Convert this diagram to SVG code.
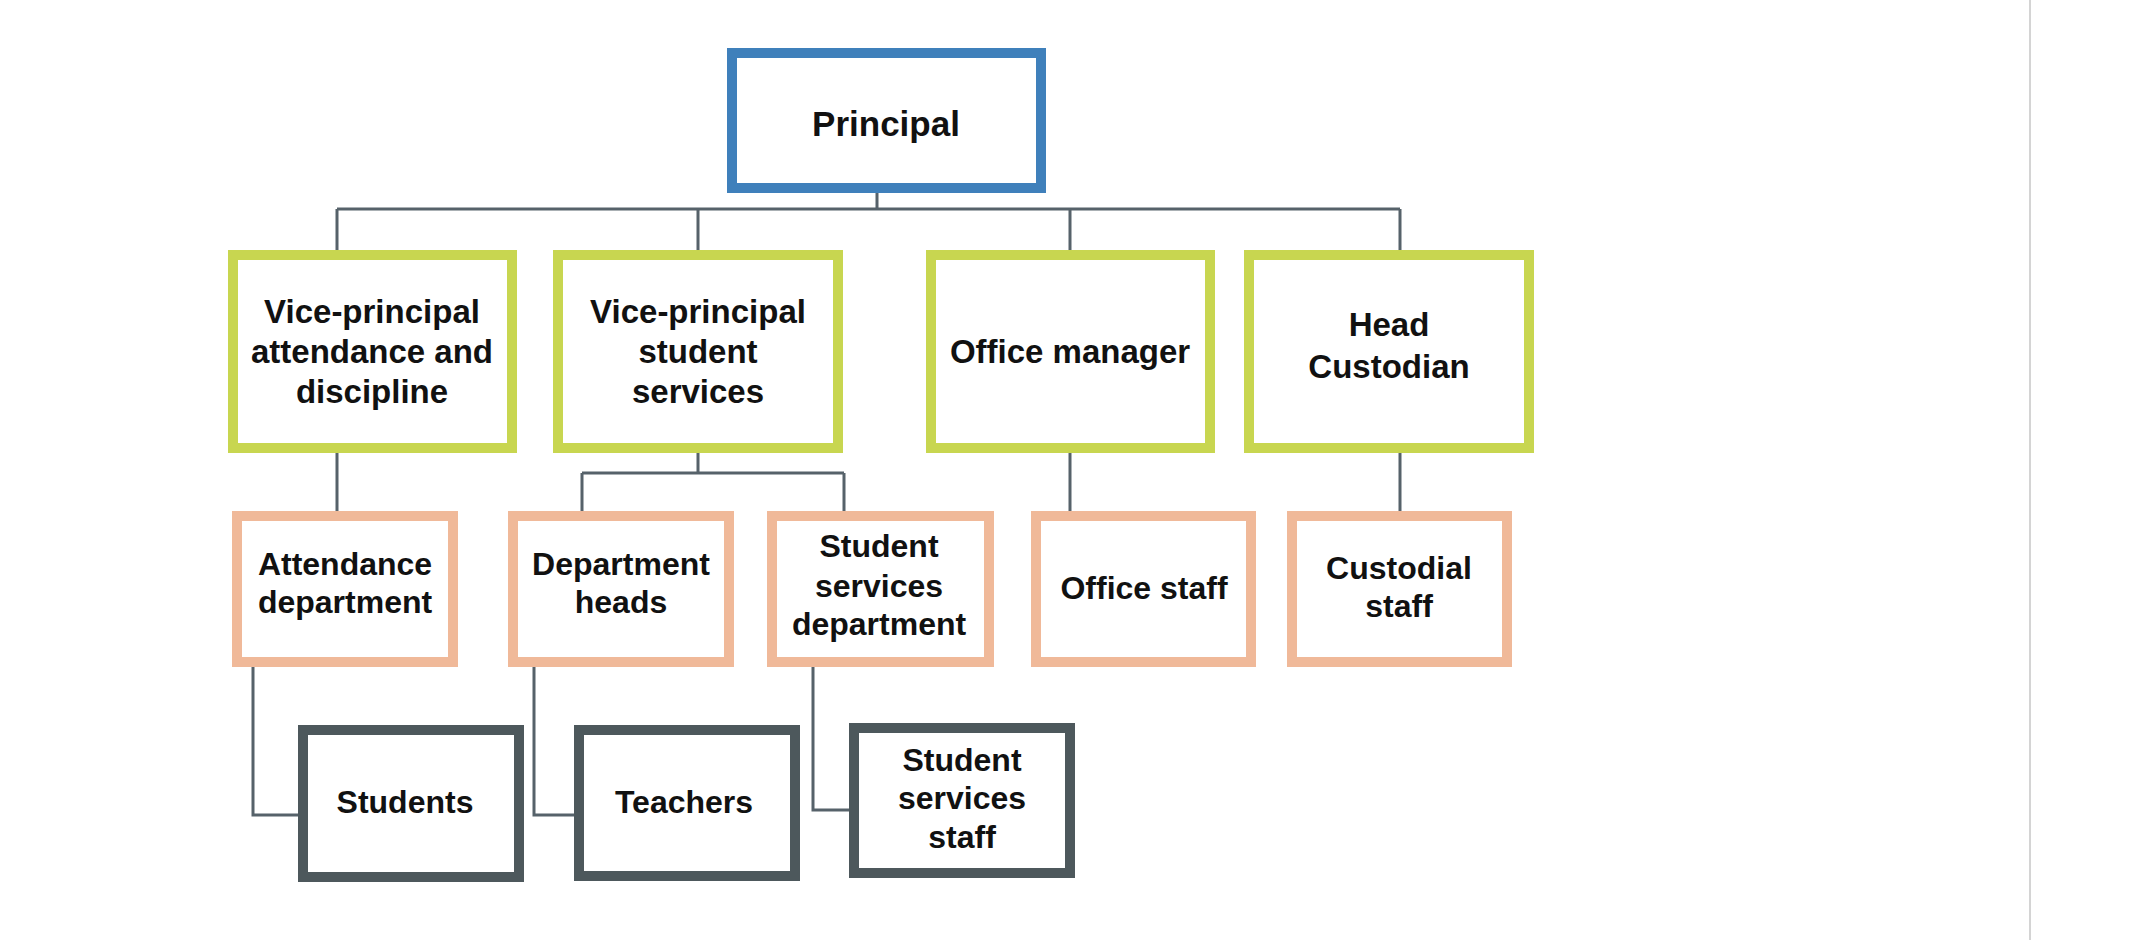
<svg xmlns="http://www.w3.org/2000/svg" width="2131" height="940" viewBox="0 0 2131 940">
<style>
.bx{fill:#ffffff;stroke-width:10}
.top{stroke:#3f80bb}
.l2{stroke:#c8d650}
.l3{stroke:#f0b999}
.l4{stroke:#4d585c}
.cn{fill:none;stroke:#56626a;stroke-width:3}
text{font-family:"Liberation Sans",Arial,Helvetica,sans-serif;font-weight:bold;fill:#111111;text-anchor:middle}
.t1{font-size:35px}
.t2{font-size:33px}
.t3{font-size:32px}
</style>
<rect x="0" y="0" width="2131" height="940" fill="#ffffff"/>
<line x1="2030" y1="0" x2="2030" y2="940" stroke="#d4d4d4" stroke-width="2"/>
<g id="connectors" class="cn">
<path d="M877 193V209M337 209H1400M337 209V250M698 209V250M1070 209V250M1400 209V250"/>
<path d="M337 453V511M698 453V473M582 473H844M582 473V511M844 473V511M1070 453V511M1400 453V511"/>
<path d="M253 667V815H298M534 667V815H574M813 667V810H849"/>
</g>
<g id="principal"><rect class="bx top" x="732" y="53" width="309" height="135"/><text class="t1" x="886" y="136">Principal</text></g>
<g id="vp-attendance"><rect class="bx l2" x="233" y="255" width="279" height="193"/><text class="t2" x="372" y="323">Vice-principal</text><text class="t2" x="372" y="363">attendance and</text><text class="t2" x="372" y="403">discipline</text></g>
<g id="vp-student-services"><rect class="bx l2" x="558" y="255" width="280" height="193"/><text class="t2" x="698" y="323">Vice-principal</text><text class="t2" x="698" y="363">student</text><text class="t2" x="698" y="403">services</text></g>
<g id="office-manager"><rect class="bx l2" x="931" y="255" width="279" height="193"/><text class="t2" x="1070" y="363">Office manager</text></g>
<g id="head-custodian"><rect class="bx l2" x="1249" y="255" width="280" height="193"/><text class="t2" x="1389" y="336">Head</text><text class="t2" x="1389" y="378">Custodian</text></g>
<g id="attendance-department"><rect class="bx l3" x="237" y="516" width="216" height="146"/><text class="t3" x="345" y="575">Attendance</text><text class="t3" x="345" y="613">department</text></g>
<g id="department-heads"><rect class="bx l3" x="513" y="516" width="216" height="146"/><text class="t3" x="621" y="575">Department</text><text class="t3" x="621" y="613">heads</text></g>
<g id="student-services-department"><rect class="bx l3" x="772" y="516" width="217" height="146"/><text class="t3" x="879" y="557">Student</text><text class="t3" x="879" y="597">services</text><text class="t3" x="879" y="635">department</text></g>
<g id="office-staff"><rect class="bx l3" x="1036" y="516" width="215" height="146"/><text class="t3" x="1144" y="599">Office staff</text></g>
<g id="custodial-staff"><rect class="bx l3" x="1292" y="516" width="215" height="146"/><text class="t3" x="1399" y="579">Custodial</text><text class="t3" x="1399" y="617">staff</text></g>
<g id="students"><rect class="bx l4" x="303" y="730" width="216" height="147"/><text class="t3" x="405" y="813">Students</text></g>
<g id="teachers"><rect class="bx l4" x="579" y="730" width="216" height="146"/><text class="t3" x="684" y="813">Teachers</text></g>
<g id="student-services-staff"><rect class="bx l4" x="854" y="728" width="216" height="145"/><text class="t3" x="962" y="771">Student</text><text class="t3" x="962" y="809">services</text><text class="t3" x="962" y="848">staff</text></g>
</svg>
